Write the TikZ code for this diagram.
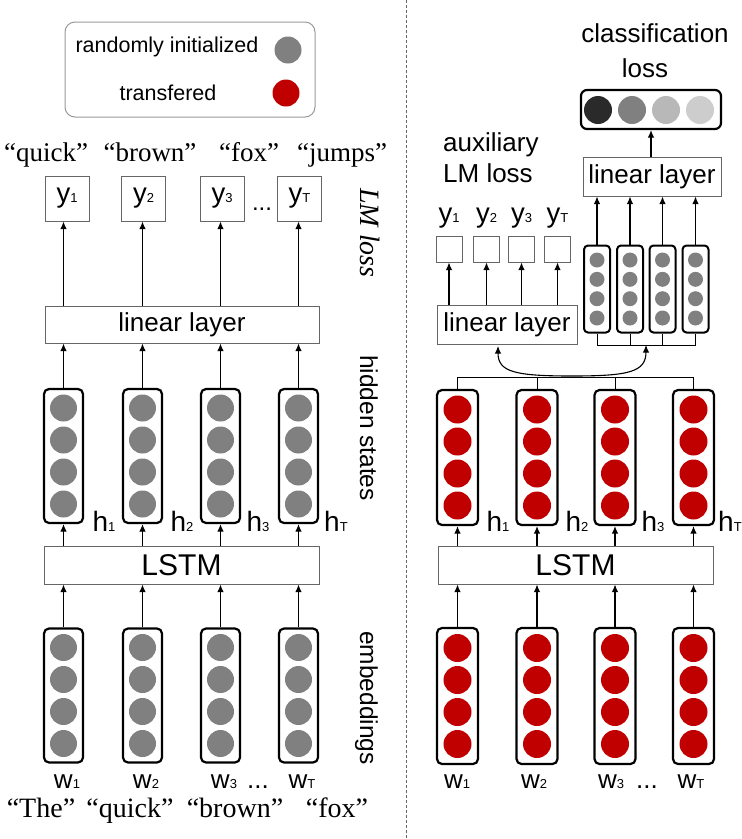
\documentclass[tikz,border=0pt]{standalone}
\usepackage{fontspec}
\setmainfont{Liberation Serif}
\newfontfamily\sansf{Liberation Sans}
\usetikzlibrary{arrows.meta,calc}
\definecolor{dotgray}{HTML}{808080}
\definecolor{dotred}{HTML}{C00000}
\definecolor{boxgray}{HTML}{666666}
\definecolor{outa}{HTML}{2A2A2A}
\definecolor{outb}{HTML}{808080}
\definecolor{outc}{HTML}{B8B8B8}
\definecolor{outd}{HTML}{CDCDCD}
\newcommand\sbs[1]{{\fontsize{13}{13}\selectfont #1}}
\newcommand\fsz[1]{\fontsize{#1}{#1}\selectfont}
\begin{document}
\begin{tikzpicture}[x=1pt,y=-1pt,
 thinbox/.style={draw=boxgray, line width=1pt, inner sep=0pt},
 colbox/.style={draw=black, line width=2.2pt, rounded corners=5pt, inner sep=0pt, minimum width=39pt, minimum height=134pt},
 smallcol/.style={draw=black, line width=2pt, rounded corners=4pt, inner sep=0pt, minimum width=26pt, minimum height=87pt},
 dot/.style={circle, inner sep=0pt, minimum size=27pt, fill=#1},
 sdot/.style={circle, inner sep=0pt, minimum size=15pt, fill=#1},
 arr/.style={-{Latex[length=7.5pt,width=6.5pt]}, line width=1.1pt},
 lnk/.style={line width=1pt},
 sanslbl/.style={font=\sansf\fsz{24}, inner sep=0pt},
 serlbl/.style={font=\fsz{27}, inner sep=0pt, anchor=base},
 sidelbl/.style={inner sep=0pt, rotate=-90, anchor=base},
 ylbl/.style={font=\sansf\fsz{27.5}},
 hlbl/.style={sanslbl, font=\sansf\fsz{28}},
 wlbl/.style={sanslbl, font=\sansf\fsz{26}, anchor=base},
]
\useasboundingbox (0,0) rectangle (742,839);

% ---------------- legend
\node[draw=black!40, line width=1pt, rounded corners=10pt, minimum width=250pt, minimum height=95pt, inner sep=0pt] (legend) at (190,69.5) {};
\node[font=\sansf\fsz{21.5}, inner sep=0pt] (lgrand) at (167,47) {randomly initialized};
\node[font=\sansf\fsz{21.5}, inner sep=0pt] (lgtrans) at (168,93) {transfered};
\node[dot=dotgray] (lgdotg) at (288,50) {};
\node[dot=dotred] (lgdotr) at (286,93) {};

% ---------------- dashed separator
\coordinate (septop) at (406,0);
\coordinate (sepbot) at (406,839);
\draw[black!60, line width=0.8pt, dash pattern=on 3pt off 2pt] (septop) -- (sepbot);

% ---------------- LEFT
\node[serlbl] (tw1) at (46,161) {“quick”};
\node[serlbl] (tw2) at (150,161) {“brown”};
\node[serlbl] (tw3) at (249,161) {“fox”};
\node[serlbl] (tw4) at (342,161) {“jumps”};

\node[thinbox, ylbl, minimum width=44pt, minimum height=45pt] (yl1) at (67,198.5) {y\sbs{1}};
\node[thinbox, ylbl, minimum width=44pt, minimum height=45pt] (yl2) at (143.5,198.5) {y\sbs{2}};
\node[thinbox, ylbl, minimum width=44pt, minimum height=45pt] (yl3) at (222,198.5) {y\sbs{3}};
\node[thinbox, ylbl, minimum width=44pt, minimum height=45pt] (yl4) at (299.5,198.5) {y\sbs{T}};
\node[sanslbl, anchor=base] (ydots) at (262,210) {...};

\node[thinbox, minimum width=274pt, minimum height=37pt, font=\sansf\fsz{26}] (ll) at (182,324.5) {linear layer};
\node[thinbox, minimum width=275pt, minimum height=38pt, font=\sansf\fsz{30}] (lstm) at (181.5,565) {LSTM};

\foreach \i/\x in {1/63.5,2/142.5,3/220.5,4/298.5}{
  \node[colbox] (hl\i) at (\x,456) {};
  \foreach \k/\dy in {a/-48,b/-16,c/16,d/48}
    \node[dot=dotgray] (hl\i\k) at ({\x},{456+\dy}) {};
  \node[colbox] (el\i) at (\x,695.5) {};
  \foreach \k/\dy in {a/-48,b/-16,c/16,d/48}
    \node[dot=dotgray] (el\i\k) at ({\x},{695.5+\dy}) {};
  \draw[arr] (el\i.north) -- (el\i.north |- lstm.south);
  \draw[arr] (lstm.north -| hl\i) -- (hl\i.south);
  \draw[arr] (hl\i.north) -- (hl\i.north |- ll.south);
  \draw[arr] (ll.north -| hl\i) -- (hl\i |- yl\i.south);
}

\node[hlbl] (hll1) at (104,521) {h\sbs{1}};
\node[hlbl] (hll2) at (182,521) {h\sbs{2}};
\node[hlbl] (hll3) at (258,521) {h\sbs{3}};
\node[hlbl] (hll4) at (336,521) {h\sbs{T}};

\node[wlbl] (wl1) at (67,788) {w\sbs{1}};
\node[wlbl] (wl2) at (146,788) {w\sbs{2}};
\node[wlbl] (wl3) at (224,788) {w\sbs{3}};
\node[wlbl] (wldots) at (258,788) {...};
\node[wlbl] (wl4) at (302,788) {w\sbs{T}};

\node[serlbl, font=\fsz{28}] (bw1) at (41,817) {“The”};
\node[serlbl, font=\fsz{28}] (bw2) at (130,817) {“quick”};
\node[serlbl, font=\fsz{28}] (bw3) at (235,817) {“brown”};
\node[serlbl, font=\fsz{28}] (bw4) at (337,817) {“fox”};

\node[sidelbl, font=\fsz{28}\itshape] (lmloss) at (360,233) {LM loss};
\node[sidelbl, font=\sansf\fsz{24.5}] (hidst) at (360,428) {hidden states};
\node[sidelbl, font=\sansf\fsz{24.5}] (embs) at (360,698) {embeddings};

% ---------------- RIGHT
\node[font=\sansf\fsz{26}, inner sep=0pt] (clsA) at (655,33) {classification};
\node[font=\sansf\fsz{26}, inner sep=0pt, anchor=base] (clsB) at (clsA.base) [yshift=-35pt, xshift=-10pt] {loss};
\node[draw=black, line width=2.2pt, rounded corners=6pt, minimum width=140pt, minimum height=39pt, inner sep=0pt] (outbox) at (651,109.5) {};
\node[dot=outa, minimum size=28pt] (oc1) at (598,110) {};
\node[dot=outb, minimum size=28pt] (oc2) at (632,110) {};
\node[dot=outc, minimum size=28pt] (oc3) at (666,110) {};
\node[dot=outd, minimum size=28pt] (oc4) at (700,110) {};

\node[thinbox, minimum width=138pt, minimum height=39pt, font=\sansf\fsz{26}] (topll) at (652,176.5) {linear layer};
\draw[arr] (topll.north -| outbox) -- (outbox.south);

\node[font=\sansf\fsz{26}, align=left, inner sep=0pt, anchor=west] (auxlm) at (443,157.5) {auxiliary\\[5pt]LM loss};

\foreach \i/\x in {1/449,2/486.5,3/521.5,4/557.5}{
  \node[thinbox, minimum width=26pt, minimum height=26pt] (ay\i) at (\x,249) {};
}
\node[ylbl, inner sep=0pt, anchor=south, yshift=7pt] (ayl1) at (ay1.north) {y\sbs{1}};
\node[ylbl, inner sep=0pt, anchor=south, yshift=7pt] (ayl2) at (ay2.north) {y\sbs{2}};
\node[ylbl, inner sep=0pt, anchor=south, yshift=7pt] (ayl3) at (ay3.north) {y\sbs{3}};
\node[ylbl, inner sep=0pt, anchor=south, yshift=7pt] (ayl4) at (ay4.north) {y\sbs{T}};

\node[thinbox, minimum width=140pt, minimum height=39pt, font=\sansf\fsz{26}] (auxll) at (507,324.5) {linear layer};
\foreach \i in {1,...,4}{
  \draw[arr] (auxll.north -| ay\i) -- (ay\i.south);
}

\foreach \i/\x in {1/597,2/630,3/662.5,4/695.5}{
  \node[smallcol] (sc\i) at (\x,289) {};
  \foreach \k/\dy in {a/-29,b/-9.7,c/9.7,d/29}
    \node[sdot=dotgray] (sc\i\k) at ({\x},{289+\dy}) {};
  \draw[arr] (sc\i.north) -- (sc\i.north |- topll.south);
}
\coordinate (gath) at (646,345);
\draw[lnk] (sc1.south) -- (sc1.south |- gath) -- (sc4.south |- gath) -- (sc4.south);
\draw[lnk] (sc2.south) -- (sc2.south |- gath);
\draw[lnk] (sc3.south) -- (sc3.south |- gath);

\node[thinbox, minimum width=275pt, minimum height=38pt, font=\sansf\fsz{30}] (lstmr) at (575.5,565) {LSTM};

\foreach \i/\x in {1/457.5,2/537,3/615,4/693.5}{
  \node[colbox, minimum width=41pt, minimum height=135pt] (hr\i) at (\x,457.5) {};
  \foreach \k/\dy in {a/-48,b/-16,c/16,d/48}
    \node[dot=dotred, minimum size=28pt] (hr\i\k) at ({\x},{457.5+\dy}) {};
  \node[colbox, minimum width=41pt, minimum height=136pt] (er\i) at (\x,696) {};
  \foreach \k/\dy in {a/-48,b/-16,c/16,d/48}
    \node[dot=dotred, minimum size=28pt] (er\i\k) at ({\x},{696+\dy}) {};
  \draw[arr] (er\i.north) -- (er\i.north |- lstmr.south);
  \draw[arr] (lstmr.north -| hr\i) -- (hr\i.south);
}
\coordinate (hbus) at (572,377);
\draw[lnk] (hr1.north) -- (hr1.north |- hbus) -- (hr4.north |- hbus) -- (hr4.north);
\draw[lnk] (hr2.north) -- (hr2.north |- hbus);
\draw[lnk] (hr3.north) -- (hr3.north |- hbus);
\coordinate (curvemid) at (572,376);
\draw[arr] (curvemid) .. controls (515,376) and (498,372) .. (498,346);
\draw[arr] (curvemid) .. controls (629,376) and (646,372) .. (gath);

\node[hlbl] (hrl1) at (498,521) {h\sbs{1}};
\node[hlbl] (hrl2) at (577,521) {h\sbs{2}};
\node[hlbl] (hrl3) at (653,521) {h\sbs{3}};
\node[hlbl] (hrl4) at (730,521) {h\sbs{T}};

\node[wlbl] (wr1) at (457,788) {w\sbs{1}};
\node[wlbl] (wr2) at (534,788) {w\sbs{2}};
\node[wlbl] (wr3) at (611,788) {w\sbs{3}};
\node[wlbl] (wrdots) at (647,788) {...};
\node[wlbl] (wr4) at (691,788) {w\sbs{T}};
\end{tikzpicture}
\end{document}
